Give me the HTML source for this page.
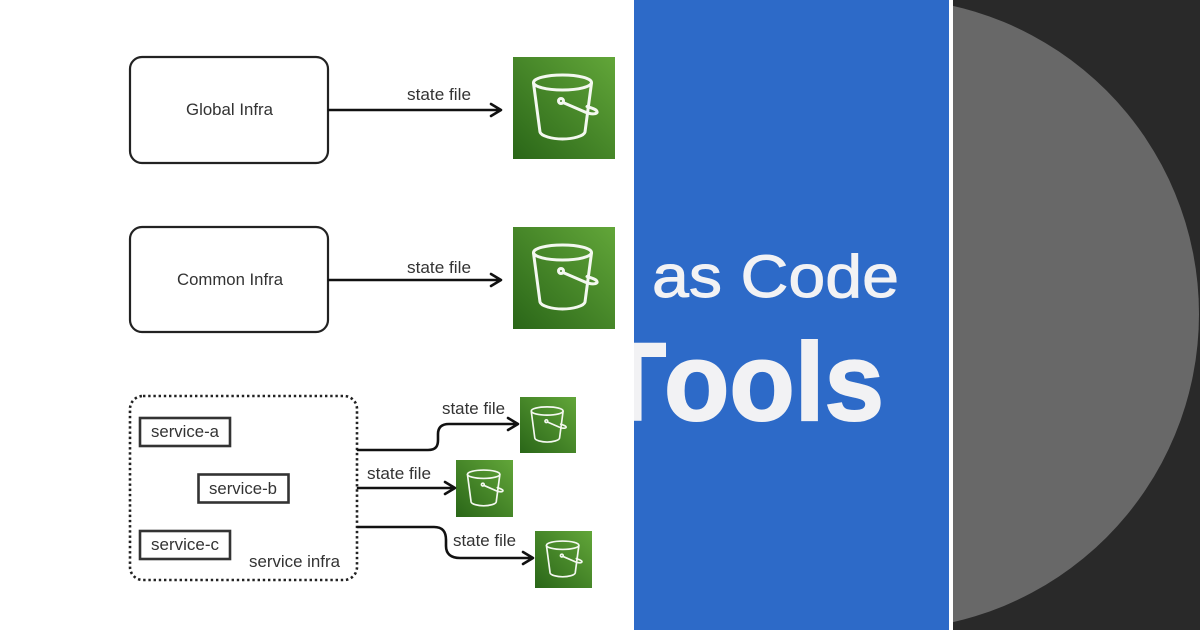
<!DOCTYPE html>
<html><head><meta charset="utf-8"><style>
html,body{margin:0;padding:0;background:#fff}
svg{display:block}
text{font-family:"Liberation Sans",sans-serif}
</style></head><body>
<svg width="1200" height="630" viewBox="0 0 1200 630" xmlns="http://www.w3.org/2000/svg">
<defs>
<linearGradient id="g" x1="0" y1="1" x2="1" y2="0"><stop offset="0" stop-color="#2a6618"/><stop offset="1" stop-color="#62a639"/></linearGradient>
<clipPath id="blue"><rect x="634" y="0" width="315" height="630"/></clipPath>
<clipPath id="dark"><rect x="953" y="0" width="247" height="630"/></clipPath>
<symbol id="b" viewBox="0 0 102 102">
<rect width="102" height="102" fill="url(#g)"/>
<g fill="none" stroke="#f4f8f0" stroke-width="3" stroke-linecap="round" stroke-linejoin="round">
<ellipse cx="49.5" cy="25.500" rx="29" ry="7.500"/>
<path d="M20.500 26 L27 75 C28 79 39 82 49.500 82 C60 82 71 79 72 75 L78.500 26"/>
<path d="M50 45.500 L72 55 C79 58 85 57 84 54.500 C83 52 78 51 74 49.500"/>
<circle cx="48" cy="44" r="2.500"/>
</g>
</symbol>
</defs>
<rect width="1200" height="630" fill="#fff"/>
<rect x="634" width="315" height="630" fill="#2d6ac8"/>
<rect x="953" width="247" height="630" fill="#292929"/>
<circle cx="883" cy="314" r="316" fill="#686868" clip-path="url(#dark)"/>
<text x="652" y="297" font-size="60" fill="#f2f2f4" stroke="#f2f2f4" stroke-width="0.9" textLength="247" lengthAdjust="spacingAndGlyphs">as Code</text>
<g clip-path="url(#blue)" font-size="110" font-weight="700" fill="#f2f2f4" stroke="#f2f2f4" stroke-width="2">
<text x="599" y="420">T</text>
<text x="664" y="420" textLength="220" lengthAdjust="spacingAndGlyphs">ools</text>
</g>

<g fill="#fff" stroke="#222" stroke-width="2.2">
<rect x="130" y="57" width="198" height="106" rx="12"/>
<rect x="130" y="227" width="198" height="105" rx="12"/>
</g>
<rect x="130" y="396" width="227" height="184" rx="13" fill="#fff" stroke="#222" stroke-width="2.6" stroke-dasharray="2.400 2.800"/>
<g fill="#fff" stroke="#333" stroke-width="2.600">
<rect x="140" y="418" width="90" height="28"/>
<rect x="198.500" y="474.500" width="90" height="28"/>
<rect x="140" y="531" width="90" height="28"/>
</g>

<use href="#b" x="513" y="57" width="102" height="102"/>
<use href="#b" x="513" y="227" width="102" height="102"/>
<use href="#b" x="520" y="397" width="56" height="56"/>
<use href="#b" x="456" y="460" width="57" height="57"/>
<use href="#b" x="535" y="531" width="57" height="57"/>

<g fill="none" stroke="#111" stroke-width="2.600" stroke-linecap="round" stroke-linejoin="round">
<path d="M329 110H500M491 104L501 110L491 116"/>
<path d="M329 280H500M491 274L501 280L491 286"/>
<path d="M358 450H428C436 450 438 446 438 440V434C438 428 441 424 449 424H517M508 418L518 424L508 430"/>
<path d="M358 488H454M445 482L455 488L445 494"/>
<path d="M358 527H434C443 527 446 532 446 540V546C446 554 451 558 460 558H532M523 552L533 558L523 564"/>
</g>

<g font-size="17" fill="#333">
<text x="186" y="115" textLength="87" lengthAdjust="spacingAndGlyphs">Global Infra</text>
<text x="177" y="285" textLength="106" lengthAdjust="spacingAndGlyphs">Common Infra</text>
<text x="407" y="100" textLength="64" lengthAdjust="spacingAndGlyphs">state file</text>
<text x="407" y="273" textLength="64" lengthAdjust="spacingAndGlyphs">state file</text>
<text x="442" y="414" textLength="63" lengthAdjust="spacingAndGlyphs">state file</text>
<text x="367" y="479" textLength="64" lengthAdjust="spacingAndGlyphs">state file</text>
<text x="453" y="546" textLength="63" lengthAdjust="spacingAndGlyphs">state file</text>
<text x="151" y="437" textLength="68" lengthAdjust="spacingAndGlyphs">service-a</text>
<text x="209" y="494" textLength="68" lengthAdjust="spacingAndGlyphs">service-b</text>
<text x="151" y="550" textLength="68" lengthAdjust="spacingAndGlyphs">service-c</text>
<text x="249" y="567" textLength="91" lengthAdjust="spacingAndGlyphs">service infra</text>
</g>
</svg>
</body></html>
